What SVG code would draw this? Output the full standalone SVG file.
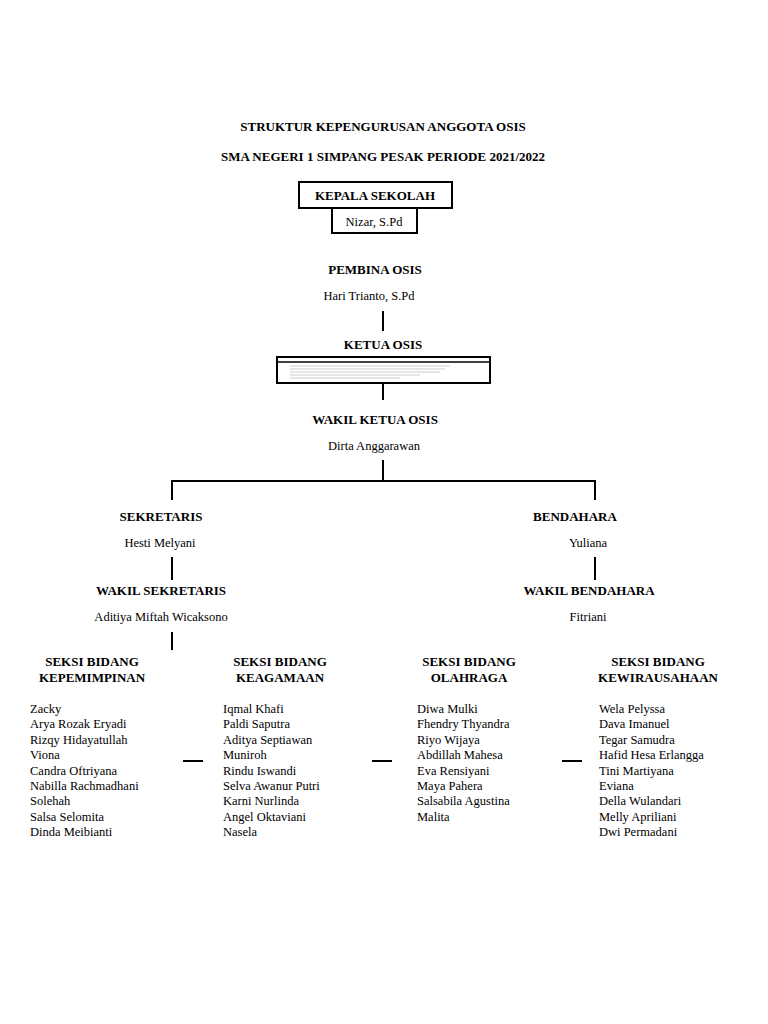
<svg xmlns="http://www.w3.org/2000/svg" width="768" height="1024" viewBox="0 0 768 1024">
<style>
text{font-family:"Liberation Serif","Times New Roman",serif;fill:#000}
.h{font-weight:bold;font-size:13px;text-anchor:middle}
.n{font-size:12.5px;text-anchor:middle}
.l{font-size:12.5px}
.ln{stroke:#000;stroke-width:2;fill:none}
.bx{stroke:#000;stroke-width:2;fill:#fff}
</style>
<rect width="768" height="1024" fill="#fff"/>
<text class="h" x="383" y="131">STRUKTUR KEPENGURUSAN ANGGOTA OSIS</text>
<text class="h" x="383" y="161">SMA NEGERI 1 SIMPANG PESAK PERIODE 2021/2022</text>
<g id="connectors">
<path class="ln" d="M383 311V331M383 384V400M383 460V481M172 481H595M172 480V500M595 480V500M172 557V580M595 557V580M172 632V650M183 761H203M372 761H392M562 761H582"/>
</g>
<g id="kepala"><rect class="bx" x="299" y="182" width="153" height="26"/><text class="h" x="375" y="200">KEPALA SEKOLAH</text>
<rect class="bx" x="332" y="208" width="85" height="25"/><text class="n" x="374" y="226">Nizar, S.Pd</text></g>
<g id="pembina"><text class="h" x="375" y="274">PEMBINA OSIS</text><text class="n" x="369" y="300">Hari Trianto, S.Pd</text></g>
<g id="ketua"><text class="h" x="383" y="349">KETUA OSIS</text>
<rect class="bx" x="277" y="357" width="213" height="26"/><line x1="277" y1="362" x2="490" y2="362" stroke="#000" stroke-width="1.5"/>
<path d="M290 366H450M290 369H445M290 372H440M290 375H420M290 378H400" stroke="#ccc" stroke-width="1"/></g>
<g id="wakil"><text class="h" x="375" y="424">WAKIL KETUA OSIS</text><text class="n" x="374" y="450">Dirta Anggarawan</text></g>
<g id="sekretaris"><text class="h" x="161" y="521">SEKRETARIS</text><text class="n" x="160" y="547">Hesti Melyani</text></g>
<g id="wsekretaris"><text class="h" x="161" y="595">WAKIL SEKRETARIS</text><text class="n" x="161" y="621">Aditiya Miftah Wicaksono</text></g>
<g id="bendahara"><text class="h" x="575" y="521">BENDAHARA</text><text class="n" x="588" y="547">Yuliana</text></g>
<g id="wbendahara"><text class="h" x="589" y="595">WAKIL BENDAHARA</text><text class="n" x="588" y="621">Fitriani</text></g>
<g id="kepemimpinan"><text class="h" x="92" y="666">SEKSI BIDANG</text><text class="h" x="92" y="682">KEPEMIMPINAN</text>
<text class="l" x="30" y="713">Zacky<tspan x="30" dy="15.4">Arya Rozak Eryadi</tspan><tspan x="30" dy="15.4">Rizqy Hidayatullah</tspan><tspan x="30" dy="15.4">Viona</tspan><tspan x="30" dy="15.4">Candra Oftriyana</tspan><tspan x="30" dy="15.4">Nabilla Rachmadhani</tspan><tspan x="30" dy="15.4">Solehah</tspan><tspan x="30" dy="15.4">Salsa Selomita</tspan><tspan x="30" dy="15.4">Dinda Meibianti</tspan></text></g>
<g id="keagamaan"><text class="h" x="280" y="666">SEKSI BIDANG</text><text class="h" x="280" y="682">KEAGAMAAN</text>
<text class="l" x="223" y="713">Iqmal Khafi<tspan x="223" dy="15.4">Paldi Saputra</tspan><tspan x="223" dy="15.4">Aditya Septiawan</tspan><tspan x="223" dy="15.4">Muniroh</tspan><tspan x="223" dy="15.4">Rindu Iswandi</tspan><tspan x="223" dy="15.4">Selva Awanur Putri</tspan><tspan x="223" dy="15.4">Karni Nurlinda</tspan><tspan x="223" dy="15.4">Angel Oktaviani</tspan><tspan x="223" dy="15.4">Nasela</tspan></text></g>
<g id="olahraga"><text class="h" x="469" y="666">SEKSI BIDANG</text><text class="h" x="469" y="682">OLAHRAGA</text>
<text class="l" x="417" y="713">Diwa Mulki<tspan x="417" dy="15.4">Fhendry Thyandra</tspan><tspan x="417" dy="15.4">Riyo Wijaya</tspan><tspan x="417" dy="15.4">Abdillah Mahesa</tspan><tspan x="417" dy="15.4">Eva Rensiyani</tspan><tspan x="417" dy="15.4">Maya Pahera</tspan><tspan x="417" dy="15.4">Salsabila Agustina</tspan><tspan x="417" dy="15.4">Malita</tspan></text></g>
<g id="kewirausahaan"><text class="h" x="658" y="666">SEKSI BIDANG</text><text class="h" x="658" y="682">KEWIRAUSAHAAN</text>
<text class="l" x="599" y="713">Wela Pelyssa<tspan x="599" dy="15.4">Dava Imanuel</tspan><tspan x="599" dy="15.4">Tegar Samudra</tspan><tspan x="599" dy="15.4">Hafid Hesa Erlangga</tspan><tspan x="599" dy="15.4">Tini Martiyana</tspan><tspan x="599" dy="15.4">Eviana</tspan><tspan x="599" dy="15.4">Della Wulandari</tspan><tspan x="599" dy="15.4">Melly Apriliani</tspan><tspan x="599" dy="15.4">Dwi Permadani</tspan></text></g>
</svg>
